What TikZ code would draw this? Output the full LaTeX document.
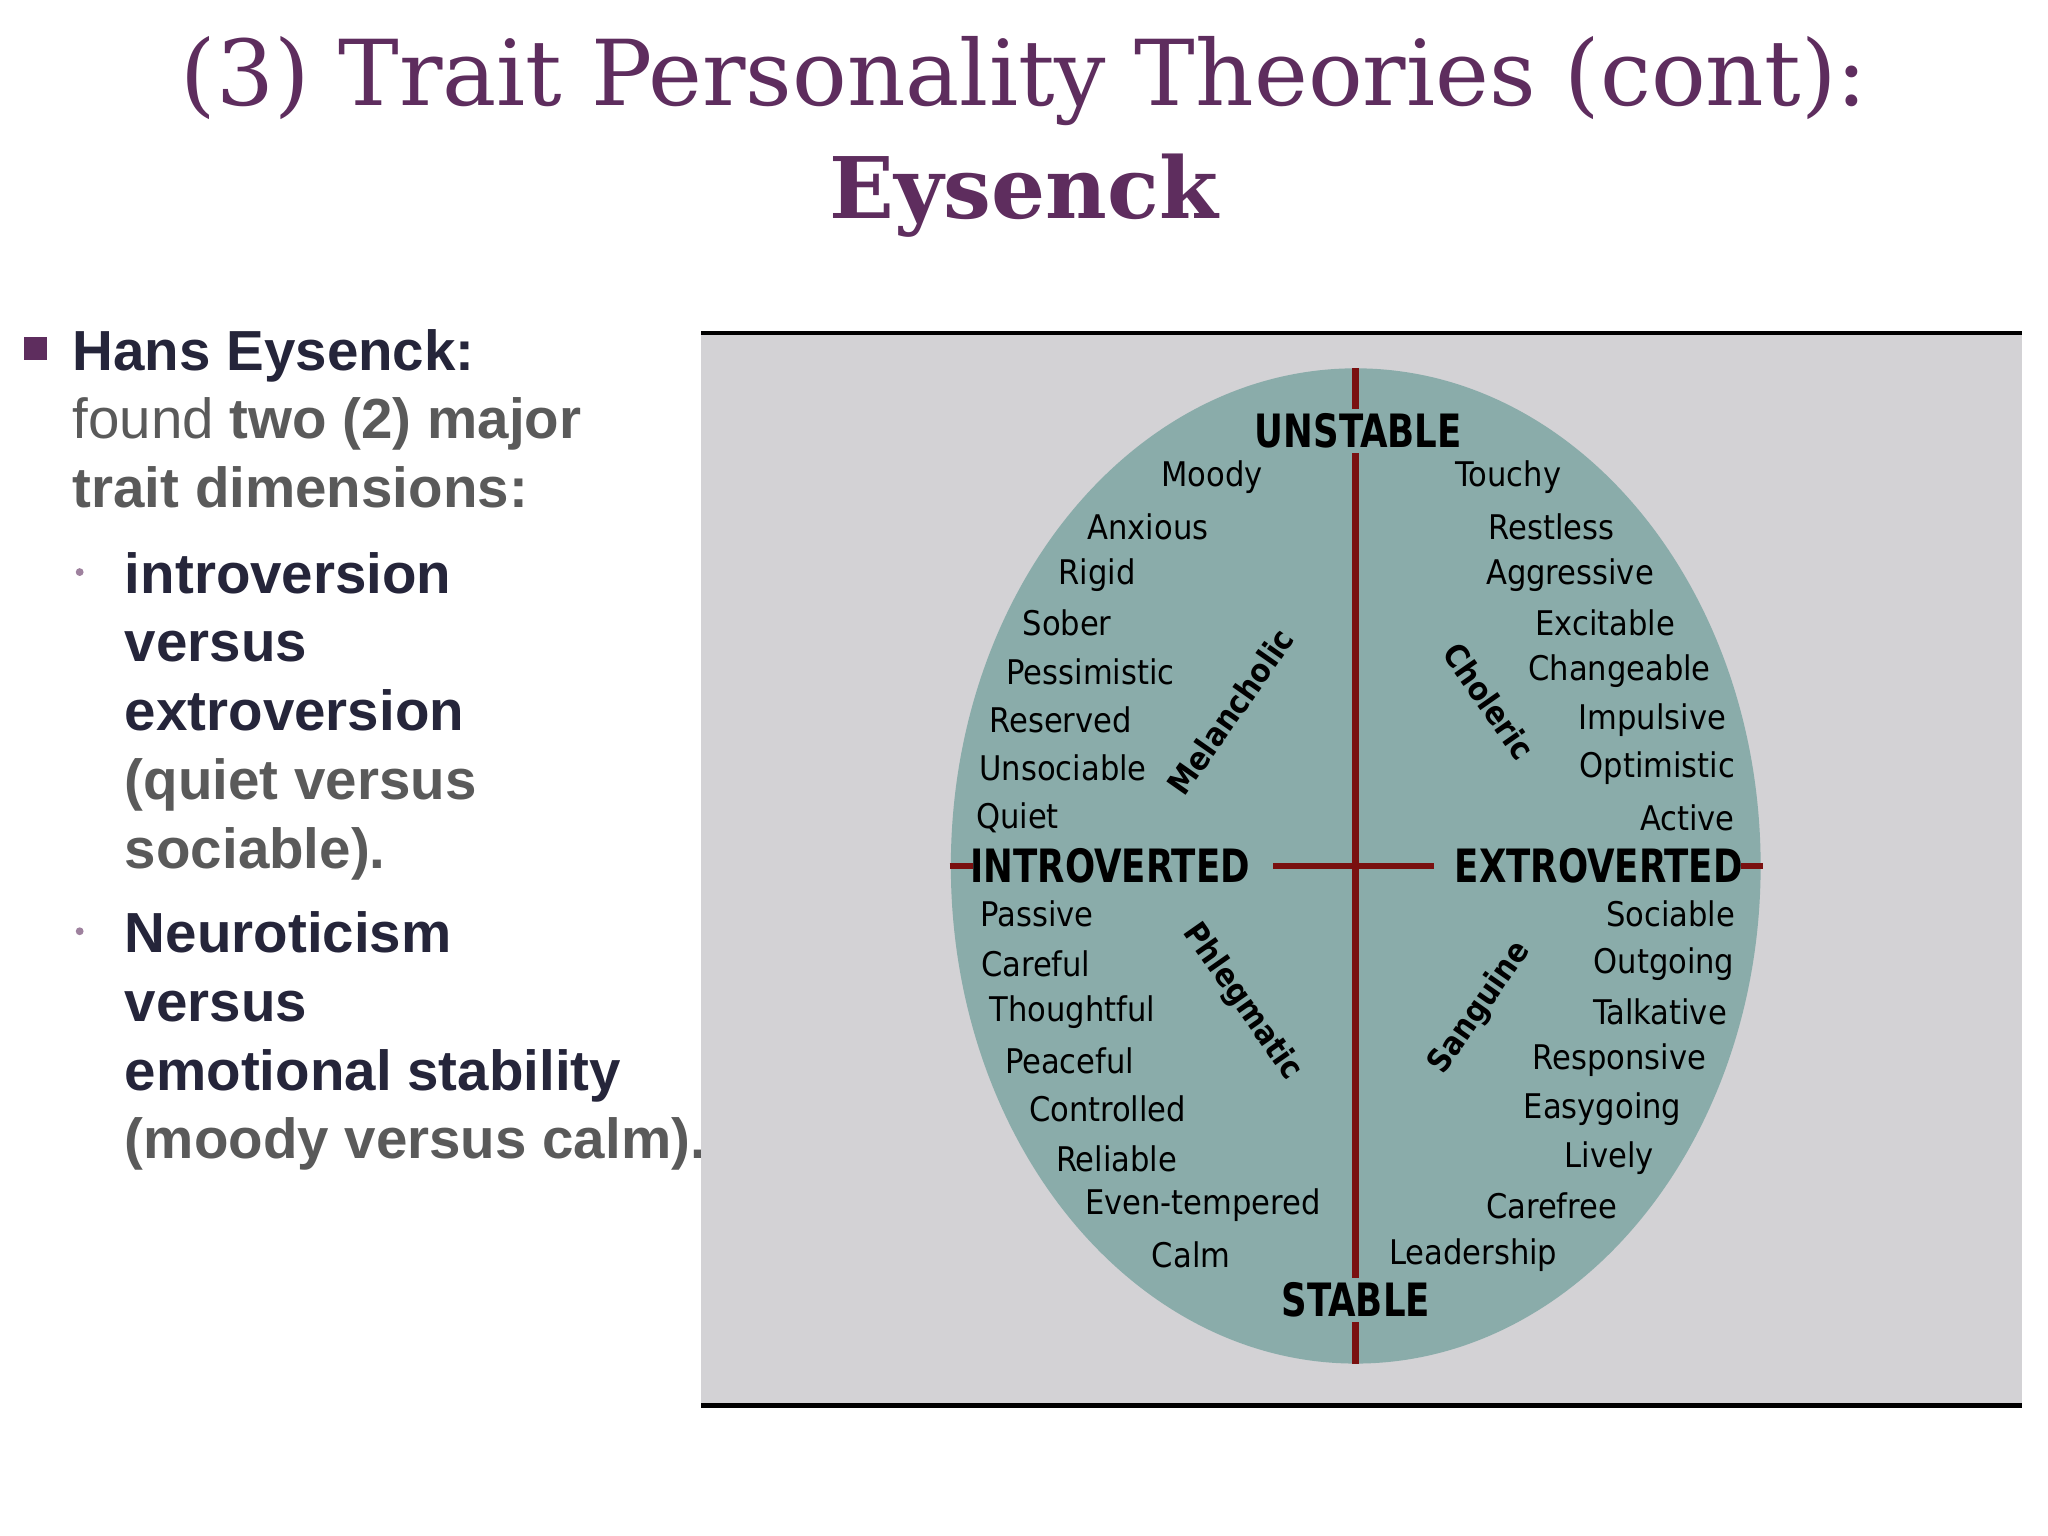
\documentclass[tikz,border=0pt]{standalone}
\usepackage{fontspec}
\setmainfont{Liberation Sans}
\newfontfamily\titlefont{DejaVu Serif}
\newfontfamily\cond{DejaVu Sans Condensed}
\definecolor{tpurple}{HTML}{5E2D5E}
\definecolor{ellc}{HTML}{8AACAA}
\definecolor{boxc}{HTML}{D3D2D5}
\definecolor{redl}{HTML}{7A1010}
\definecolor{dtext}{HTML}{25253A}
\definecolor{gtext}{HTML}{5A5A5A}
\begin{document}
\begin{tikzpicture}[x=0.01cm,y=-0.01cm,
  tr/.style={font=\cond\fontsize{7.4}{8}\selectfont,inner sep=0pt},
  ax/.style={font=\cond\bfseries\fontsize{10}{11}\selectfont,inner sep=1pt,xscale=0.86},
  tp/.style={font=\cond\bfseries\fontsize{7}{8}\selectfont,inner sep=0pt},
  bul/.style={anchor=north west,align=left,inner sep=0pt,font=\bfseries\fontsize{12.3}{15}\selectfont}]
\useasboundingbox (0,0) rectangle (1568,1176);
\fill[white] (0,0) rectangle (1568,1176);
\node[font=\titlefont\fontsize{19.8}{24}\selectfont,text=tpurple] (t1) at (784,62) {(3) Trait Personality Theories (cont):};
\node[font=\titlefont\bfseries\fontsize{18.5}{22}\selectfont,text=tpurple] (t2) at (784,150) {Eysenck};
% left text
\fill[tpurple] (18,258) rectangle (36,276);
\node[bul,text=dtext] (h) at (55,252) {Hans Eysenck:};
\node[bul,text=gtext,font=\fontsize{12.3}{15}\selectfont] (f) at (55,304) {found \textbf{two (2) major}\\\textbf{trait dimensions:}};
\fill[tpurple!60] (61,438) circle (3);
\node[bul,text=dtext] (i) at (95,422) {introversion\\versus\\extroversion\\\textcolor{gtext}{(quiet versus}\\\textcolor{gtext}{sociable).}};
\fill[tpurple!60] (61,713) circle (3);
\node[bul,text=dtext] (n) at (95,697) {Neuroticism\\versus\\emotional stability\\\textcolor{gtext}{(moody versus calm).}};
% diagram
\fill[boxc] (537,255) rectangle (1548,1076);
\draw[line width=1pt] (537,255) -- (1548,255) (537,1076) -- (1548,1076);
\fill[ellc] (1038,663) ellipse [x radius=310, y radius=381];
\draw[redl,line width=1.5pt] (1038,282) -- (1038,1044);
\draw[redl,line width=1.5pt] (727,663) -- (745,663) (975,663) -- (1098,663) (1333,663) -- (1350,663);
\node[ax,fill=ellc] (un) at (1040,330) {UNSTABLE};
\node[ax,fill=ellc] (st) at (1038,995) {STABLE};
\node[ax] (in) at (850,663) {INTROVERTED};
\node[ax] (ex) at (1224,663) {EXTROVERTED};
\foreach \t/\x/\y in {Moody/928/365,Anxious/879/403,Rigid/840/440,Sober/817/477,Pessimistic/835/514,Reserved/812/551,Unsociable/814/588,Quiet/779/626,
Passive/794/700,Careful/793/738,Thoughtful/821/775,Peaceful/819/812,Controlled/848/849,Reliable/855/887,Even-tempered/921/923,Calm/912/961,
Touchy/1155/365,Restless/1188/403,Aggressive/1202/440,Excitable/1229/477,Changeable/1240/514,Impulsive/1265/551,Optimistic/1269/588,Active/1292/626,
Sociable/1279/700,Outgoing/1274/738,Talkative/1271/775,Responsive/1240/812,Easygoing/1227/849,Lively/1232/887,Carefree/1188/923,Leadership/1128/961}
  \node[tr] (n\t) at (\x,\y) {\t};
\node[tp,rotate=55] (mel) at (942,545) {Melancholic};
\node[tp,rotate=-55] (cho) at (1140,537) {Choleric};
\node[tp,rotate=-55] (phl) at (951,767) {Phlegmatic};
\node[tp,rotate=55] (san) at (1133,772) {Sanguine};
\end{tikzpicture}
\end{document}
